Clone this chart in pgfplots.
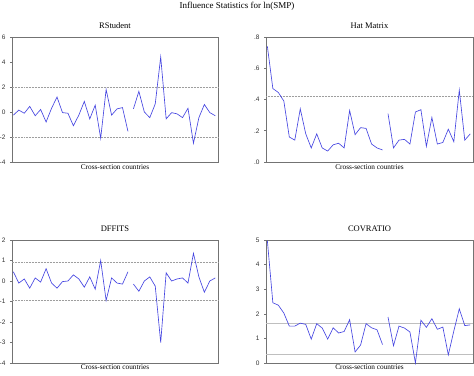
\documentclass[border=0pt]{standalone}
\usepackage{pgfplots}
\pgfplotsset{compat=1.18}
\usepackage{fontspec}
\setmainfont{Liberation Serif}
\newfontfamily\sansf{Liberation Sans}
\definecolor{sercol}{RGB}{70,70,225}
\definecolor{frm}{RGB}{115,115,115}
\pgfplotsset{
  panel/.style={
    scale only axis, anchor=south west,
    xmin=0.75, xmax=38.5,
    xtick=\empty, ytick pos=left,
    axis line style={frm, line width=0.8pt},
    ytick style={frm, line width=0.5pt},
    tick align=outside, major tick length=2pt,
    yticklabel style={font=\sansf\fontsize{6.5}{7}\selectfont, text=black!80, xshift=-1pt},
    xlabel={Cross-section countries},
    xlabel style={font=\fontsize{7.3}{8}\selectfont, yshift=3pt},
    title style={font=\fontsize{8.5}{9}\selectfont, yshift=-1pt},
    clip=false,
  },
  serline/.style={sercol, line width=0.65pt, mark=none},
  refl/.style={black!38, densely dotted, line width=0.5pt},
}
\begin{document}
\begin{tikzpicture}
\useasboundingbox (0pt,0pt) rectangle (474pt,375pt);
\node[font=\fontsize{9}{10}\selectfont] at (237pt,369pt) {Influence Statistics for ln(SMP)};

% RStudent
\begin{axis}[panel, at={(12pt,213pt)}, width=206pt, height=125pt,
  title={RStudent}, ymin=-4, ymax=6, ytick={-4,-2,0,2,4,6},
  yticklabels={-4,-2,0,2,4,6}]
\addplot[refl] coordinates {(0.75,2) (38.5,2)};
\addplot[refl] coordinates {(0.75,-2) (38.5,-2)};
\addplot[serline] coordinates {
(1,-0.25) (2,0.15) (3,-0.1) (4,0.45) (5,-0.3) (6,0.2) (7,-0.8) (8,0.3) (9,1.2) (10,-0.05)
(11,-0.1) (12,-1.1) (13,-0.25) (14,0.85) (15,-0.55) (16,0.55) (17,-2.1) (18,1.8) (19,-0.25) (20,0.25)
(21,0.35) (22,-1.55)};
\addplot[serline] coordinates {
(23,0.25) (24,1.65) (25,0.0) (26,-0.45) (27,0.65) (28,4.4) (29,-0.55) (30,-0.05) (31,-0.15) (32,-0.45)
(33,0.3) (34,-2.5) (35,-0.45) (36,0.6) (37,-0.05) (38,-0.3)};
\end{axis}

% Hat Matrix
\begin{axis}[panel, at={(266pt,213pt)}, width=207pt, height=125pt,
  title={Hat Matrix}, ymin=0, ymax=0.8, ytick={0,0.2,0.4,0.6,0.8},
  yticklabels={.0,.2,.4,.6,.8}]
\addplot[refl] coordinates {(0.75,0.42) (38.5,0.42)};
\addplot[serline] coordinates {
(1,0.74) (2,0.47) (3,0.445) (4,0.39) (5,0.16) (6,0.14) (7,0.34) (8,0.18) (9,0.09) (10,0.18)
(11,0.09) (12,0.07) (13,0.11) (14,0.12) (15,0.09) (16,0.33) (17,0.175) (18,0.22) (19,0.215) (20,0.115)
(21,0.09) (22,0.077)};
\addplot[serline] coordinates {
(23,0.31) (24,0.09) (25,0.14) (26,0.145) (27,0.115) (28,0.32) (29,0.335) (30,0.10) (31,0.285) (32,0.115)
(33,0.125) (34,0.21) (35,0.13) (36,0.46) (37,0.14) (38,0.18)};
\end{axis}

% DFFITS
\begin{axis}[panel, at={(12pt,12pt)}, width=206pt, height=123pt,
  title={DFFITS}, ymin=-4, ymax=2, ytick={-4,-3,-2,-1,0,1,2},
  yticklabels={-4,-3,-2,-1,0,1,2}, xlabel style={yshift=1pt}]
\addplot[refl] coordinates {(0.75,0.93) (38.5,0.93)};
\addplot[refl] coordinates {(0.75,-0.93) (38.5,-0.93)};
\addplot[serline] coordinates {
(1,0.45) (2,-0.1) (3,0.1) (4,-0.35) (5,0.15) (6,-0.05) (7,0.6) (8,-0.1) (9,-0.35) (10,-0.03)
(11,0.0) (12,0.3) (13,0.1) (14,-0.3) (15,0.2) (16,-0.4) (17,1.0) (18,-0.95) (19,0.15) (20,-0.1)
(21,-0.15) (22,0.45)};
\addplot[serline] coordinates {
(23,-0.15) (24,-0.5) (25,0.0) (26,0.2) (27,-0.25) (28,-3.0) (29,0.4) (30,0.0) (31,0.1) (32,0.15)
(33,-0.1) (34,1.35) (35,0.2) (36,-0.55) (37,0.0) (38,0.15)};
\end{axis}

% COVRATIO
\begin{axis}[panel, at={(266pt,12pt)}, width=207pt, height=123pt,
  title={COVRATIO}, ymin=0, ymax=5, ytick={0,1,2,3,4,5},
  yticklabels={0,1,2,3,4,5}, xlabel style={yshift=1pt}]
\addplot[black!25, line width=0.5pt] coordinates {(0.75,1.63) (38.5,1.63)};
\addplot[black!25, line width=0.5pt] coordinates {(0.75,0.37) (38.5,0.37)};
\addplot[serline] coordinates {
(1,4.97) (2,2.45) (3,2.35) (4,2.03) (5,1.5) (6,1.5) (7,1.62) (8,1.57) (9,0.97) (10,1.6)
(11,1.42) (12,0.97) (13,1.43) (14,1.22) (15,1.28) (16,1.76) (17,0.45) (18,0.73) (19,1.6) (20,1.43)
(21,1.35) (22,0.75)};
\addplot[serline] coordinates {
(23,1.87) (24,0.7) (25,1.5) (26,1.42) (27,1.26) (28,0.0) (29,1.74) (30,1.45) (31,1.8) (32,1.37)
(33,1.46) (34,0.33) (35,1.3) (36,2.2) (37,1.52) (38,1.55)};
\end{axis}
\end{tikzpicture}
\end{document}
